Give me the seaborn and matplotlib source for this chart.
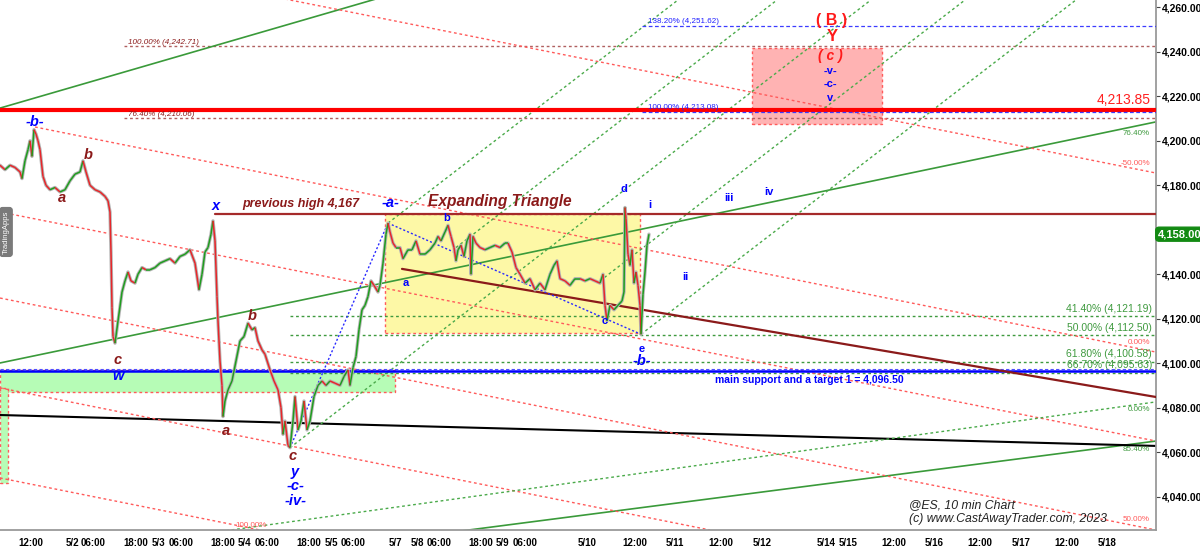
import numpy as np
import pandas as pd
import matplotlib
matplotlib.use("Agg")
import matplotlib.pyplot as plt
import seaborn as sns
from matplotlib.patches import Rectangle
from matplotlib.collections import LineCollection

sns.set_theme(style="white")
plt.rcParams['font.family'] = ['Liberation Sans', 'DejaVu Sans']

# ---------------- data ----------------
# session time index (chart slots) and ES price path
t = [0, 5, 10, 15, 20, 22, 25, 28, 30, 32, 34, 36, 38, 40, 43, 46, 50, 55, 60, 65,
     70, 75, 80, 83, 86, 90, 95, 100, 105, 108, 110, 111, 112, 113, 115, 118, 122, 125, 128, 131,
     135, 138, 142, 146, 150, 155, 160, 165, 170, 175, 180, 185, 190, 195, 199, 202, 205, 208, 211, 213,
     215, 217, 218, 220, 222, 223, 225, 228, 232, 236, 240, 244, 248, 252, 255, 258, 262, 265, 270, 274,
     278, 281, 283, 285, 288, 290, 293, 295, 298, 301, 304, 307, 310, 314, 318, 322, 326, 330, 335, 340,
     344, 348, 350, 353, 356, 359, 362, 365, 368, 371, 374, 378, 380, 383, 386, 388, 390, 393, 396, 400,
     403, 408, 412, 416, 420, 425, 430, 435, 438, 441, 445, 448, 451, 454, 456, 458, 461, 464, 467, 470,
     471, 473, 476, 480, 485, 490, 495, 500, 505, 508, 512, 516, 520, 525, 530, 535, 540, 545, 550, 554,
     557, 560, 565, 570, 575, 580, 585, 590, 595, 600, 603, 605, 607, 610, 614, 618, 622, 624, 625, 626,
     628, 630, 632, 634, 636, 638, 640, 641, 643, 645, 647, 649]
price = [4189, 4187, 4189, 4188, 4186, 4183, 4191, 4196, 4200, 4193, 4205, 4203, 4200, 4196, 4184, 4180, 4178, 4179, 4177, 4178,
         4182, 4185, 4186, 4191, 4186, 4180, 4178, 4177, 4175, 4173, 4168, 4150, 4125, 4112, 4109, 4119, 4132, 4137, 4141, 4137,
         4136, 4140, 4143, 4142, 4142, 4143, 4145, 4146, 4147, 4145, 4148, 4149, 4151, 4145, 4133, 4140, 4150, 4152, 4158, 4164,
         4155, 4130, 4119, 4101, 4090, 4076, 4083, 4088, 4092, 4101, 4110, 4112, 4118, 4115, 4116, 4110, 4106, 4104, 4097, 4092,
         4088, 4080, 4068, 4074, 4063, 4062, 4074, 4085, 4070, 4074, 4083, 4070, 4074, 4085, 4090, 4092, 4090, 4092, 4091, 4090,
         4094, 4097, 4090, 4098, 4103, 4115, 4124, 4126, 4130, 4137, 4135, 4132, 4135, 4145, 4158, 4163, 4159, 4154, 4152, 4152,
         4147, 4151, 4151, 4155, 4149, 4149, 4151, 4154, 4157, 4155, 4159, 4162, 4157, 4152, 4146, 4151, 4153, 4148, 4155, 4158,
         4140, 4157, 4154, 4152, 4151, 4152, 4153, 4152, 4154, 4154, 4150, 4143, 4140, 4136, 4138, 4133, 4136, 4133, 4140, 4144,
         4146, 4138, 4137, 4135, 4138, 4138, 4137, 4138, 4137, 4136, 4140, 4126, 4119, 4126, 4124, 4126, 4128, 4132, 4170, 4165,
         4149, 4144, 4151, 4136, 4141, 4135, 4126, 4113, 4131, 4141, 4153, 4158]

last_price = 4158.00
target_b = 4213.85
prev_high = 4167.00
support = 4096.50

fib_green_levels = [4121.19, 4112.50, 4100.58, 4095.63]
fib_green_labels = ["41.40% (4,121.19)", "50.00% (4,112.50)", "61.80% (4,100.58)", "66.70% (4,095.63)"]
fib_red_levels = [4242.71, 4210.06]
fib_red_labels = ["100.00% (4,242.71)", "76.40% (4,210.06)"]
fib_blue_levels = [4251.62, 4213.08]
fib_blue_labels = ["138.20% (4,251.62)", "100.00% (4,213.08)"]

y_ticks = [4040, 4060, 4080, 4100, 4120, 4140, 4160, 4180, 4200, 4220, 4240, 4260]
tick_pos = [30.6, 72.7, 93, 135.9, 158.8, 180.6, 222.7, 245, 266.7, 309, 331, 352.8, 395, 417, 439,
            481, 503, 525, 587.5, 634.4, 674.6, 721.3, 761.9, 826.6, 848, 893.9, 934, 980, 1021, 1067, 1107]
tick_lab = ["12:00", "5/2", "06:00", "18:00", "5/3", "06:00", "18:00", "5/4", "06:00", "18:00", "5/5", "06:00",
            "5/7", "5/8", "06:00", "18:00", "5/9", "06:00", "5/10", "12:00", "5/11", "12:00", "5/12", "5/14",
            "5/15", "12:00", "5/16", "12:00", "5/17", "12:00", "5/18"]

# trend / channel lines: (t0, p0, t1, p1)
green_solid = [(0, 4214.7, 400, 4266.9), (0, 4100.1, 1156, 4208.5), (400, 4021.0, 1156, 4065.0)]
black_line = (0, 4076.7, 1156, 4062.8)
triangle_line = (402, 4142.4, 1156, 4084.8)
red_channel = [(250, 4266.9, 1156, 4185.5), (35, 4206.2, 1156, 4105.0), (0, 4168.0, 1156, 4065.0),
               (0, 4129.3, 1156, 4025.0), (0, 4088.9, 710, 4025.0), (0, 4048.4, 260, 4025.0)]
green_dotted = [(215, 4024.0, 1156, 4082.6),
                (388, 4163.0, 680, 4264.0), (456, 4152.0, 777, 4263.3), (290, 4062.0, 870, 4263.0),
                (600, 4137.0, 965, 4263.3), (641, 4113.0, 1075, 4263.0)]
blue_dotted = [(290, 4062.0, 388, 4163.0), (388, 4163.0, 641, 4113.0)]

# ---------------- figure ----------------
fig = plt.figure(figsize=(12, 5.46), dpi=100)
ax = fig.add_axes([0, 16 / 546, 1156 / 1200, 530 / 546])
ax.set_facecolor("white")
ax.set_xlim(0, 1156)
ax.set_ylim(4025.0, 4263.3)

DR = "#8b1a1a"
BL = "#0000ff"
GR = "#3f9a3f"
RD = "#ff5a5a"

# zones
ax.add_patch(Rectangle((0, 4087.0), 395, 9.9, facecolor="#b6fcb6", edgecolor=RD, ls=(0, (2, 2)), lw=1, zorder=1))
ax.add_patch(Rectangle((0, 4046.1), 8, 42.7, facecolor="#b6fcb6", edgecolor=RD, ls=(0, (2, 2)), lw=1, zorder=1))
ax.add_patch(Rectangle((385, 4113.6), 255, 53.4, facecolor="#fdf8a6", edgecolor=RD, ls=(0, (2, 2)), lw=1, zorder=1))
ax.add_patch(Rectangle((752, 4207.5), 130, 34.2, facecolor="#ffb3b3", edgecolor=RD, ls=(0, (2, 2)), lw=1, zorder=1))

# horizontal levels
ax.plot([0, 1156], [target_b, target_b], color="#ff0000", lw=3, zorder=3)
for lv in fib_blue_levels:
    ax.plot([642, 1156], [lv, lv], color="#3c3cff", lw=0.9, ls=(0, (3, 2)), zorder=3)
for lv in fib_red_levels:
    ax.plot([124, 1156], [lv, lv], color="#b06060", lw=1, ls=(0, (2, 2)), zorder=2)
ax.plot([215, 1156], [prev_high, prev_high], color="#a52a2a", lw=1.6, zorder=3)
ax.plot([0, 1156], [support, support], color="#0000ff", lw=1.8, zorder=3)
ax.plot([0, 1156], [support + 0.9, support + 0.9], color="#5050ff", lw=0.8, ls=(0, (3, 2)), zorder=3)
for lv in fib_green_levels:
    ax.plot([290, 1156], [lv, lv], color=GR, lw=1, ls=(0, (2, 2)), zorder=2)

# diagonal lines
for (a0, b0, a1, b1) in green_solid:
    ax.plot([a0, a1], [b0, b1], color="#3a9a3a", lw=1.2, zorder=2)
ax.plot([black_line[0], black_line[2]], [black_line[1], black_line[3]], color="black", lw=1.5, zorder=2)
ax.plot([triangle_line[0], triangle_line[2]], [triangle_line[1], triangle_line[3]], color="#8b1a1a", lw=1.6, zorder=3)
for (a0, b0, a1, b1) in red_channel:
    ax.plot([a0, a1], [b0, b1], color=RD, lw=1, ls=(0, (2, 2)), zorder=2)
for (a0, b0, a1, b1) in green_dotted:
    ax.plot([a0, a1], [b0, b1], color="#4aaa4a", lw=1, ls=(0, (2, 2)), zorder=2)
for (a0, b0, a1, b1) in blue_dotted:
    ax.plot([a0, a1], [b0, b1], color="#2a2aff", lw=1, ls=(0, (1.5, 1.5)), zorder=3)

# price path
df = pd.DataFrame({"t": t, "price": price})
sns.lineplot(data=df, x="t", y="price", ax=ax, color="#b5b5b5", lw=2.4, sort=False, estimator=None, zorder=4)
pts = np.column_stack([df["t"], df["price"]])
segs = np.stack([pts[:-1], pts[1:]], axis=1)
cols = ["#1f9e1f" if b >= a else "#e8262a" for a, b in zip(price[:-1], price[1:])]
ax.add_collection(LineCollection(segs, colors=cols, linewidths=1.1, zorder=5))
ax.set_xlabel("")
ax.set_ylabel("")

# axes styling
for s in ["top", "left"]:
    ax.spines[s].set_visible(False)
for s in ["right", "bottom"]:
    ax.spines[s].set_color("#9a9a9a")
    ax.spines[s].set_linewidth(1.3)
ax.yaxis.tick_right()
ax.set_yticks(y_ticks)
# the 4,160 label sits under the last-price tag in the original
ax.set_yticklabels(["" if v == 4160 else f"{v:,.2f}" for v in y_ticks])
ax.set_xticks(tick_pos)
ax.set_xticklabels(tick_lab)
ax.tick_params(axis="y", direction="out", length=3, width=0.8, color="#444444", pad=1,
               labelsize=7.5, labelcolor="black")
ax.tick_params(axis="x", direction="out", length=4, width=0.8, color="#444444", pad=2,
               labelsize=7, labelcolor="black")
for lab in ax.get_xticklabels() + ax.get_yticklabels():
    lab.set_fontweight("bold")
ax.grid(False)

# last price tag
ax.text(1.0015, last_price, f"{last_price:,.2f}", transform=ax.get_yaxis_transform(), ha="left", va="center",
        fontsize=8, fontweight="bold", color="white", clip_on=False, zorder=10,
        bbox=dict(boxstyle="round,pad=0.18,rounding_size=0.3", fc="#138a13", ec="#138a13"))
ax.text(1151, target_b + 1.3, "4,213.85", color="#ff2020", fontsize=10, ha="right", va="bottom", zorder=6)

# fib labels
for lv, lb in zip(fib_red_levels, fib_red_labels):
    ax.text(128, lv + 1.7, lb, color=DR, fontsize=5.8, style="italic", ha="left", va="center", zorder=6)
for lv, lb in zip(fib_blue_levels, fib_blue_labels):
    ax.text(648, lv + 1.8, lb, color="#2020ff", fontsize=5.8, ha="left", va="center", zorder=6)
for lv, lb in zip(fib_green_levels, fib_green_labels):
    ax.text(1152, lv + 3.4, lb, color=GR, fontsize=7.5, ha="right", va="center", zorder=6)

small_right = [("76.40%", 4203.5, GR), ("-50.00%", 4190.0, RD), ("0.00%", 4109.5, RD),
               ("0.00%", 4079.4, GR), ("85.40%", 4061.4, GR), ("50.00%", 4029.5, RD)]
for lb, yv, c in small_right:
    ax.text(1150, yv, lb, color=c, fontsize=5.8, ha="right", va="center", zorder=6)
ax.text(251, 4027.2, "100.00%", color=RD, fontsize=5.8, ha="center", va="center", zorder=6)

# wave labels
big_kw = dict(fontsize=10.5, fontweight="bold", style="italic", ha="center", va="center", zorder=7)
small_kw = dict(fontsize=8, fontweight="bold", ha="center", va="center", color=BL, zorder=7)
for (x, y, s, c) in [(35, 4208.5, "-b-", BL), (88, 4193.6, "b", DR), (62, 4174.3, "a", DR),
                     (118, 4101.4, "c", DR), (118, 4094.2, "w", BL), (216, 4170.7, "x", BL),
                     (252, 4121.2, "b", DR), (226, 4069.5, "a", DR), (293, 4058.3, "c", DR),
                     (295, 4051.1, "y", BL), (296, 4044.8, "-c-", BL), (296, 4038.0, "-iv-", BL),
                     (391, 4172.0, "-a-", BL), (642, 4101.0, "-b-", BL)]:
    ax.text(x, y, s, color=c, **big_kw)
for (x, y, s) in [(447, 4165.3, "b"), (406, 4136.1, "a"), (605, 4119.0, "c"), (624, 4178.3, "d"),
                  (650, 4171.1, "i"), (642, 4106.4, "e"), (685, 4138.8, "ii"), (729, 4174.3, "iii"),
                  (769, 4177.0, "iv")]:
    ax.text(x, y, s, **small_kw)

ax.text(301, 4171.6, "previous high 4,167", color=DR, fontsize=9, fontweight="bold", style="italic",
        ha="center", va="center", zorder=7)
ax.text(500, 4172.5, "Expanding Triangle", color=DR, fontsize=11.2, fontweight="bold", style="italic",
        ha="center", va="center", zorder=7)
ax.text(832, 4253.9, "( B )", color="#ff1a1a", fontsize=11.5, fontweight="bold", ha="center", va="center", zorder=7)
ax.text(832, 4246.7, "Y", color="#ff1a1a", fontsize=12, fontweight="bold", ha="center", va="center", zorder=7)
ax.text(830, 4238.1, "( c )", color="#ff1a1a", fontsize=10, fontweight="bold", style="italic",
        ha="center", va="center", zorder=7)
for (y, s) in [(4231.4, "-v-"), (4225.5, "-c-"), (4219.2, "v")]:
    ax.text(830, y, s, fontsize=8, fontweight="bold", color=BL, ha="center", va="center", zorder=7)

ax.text(715, 4092.5, "main support and a target 1 = 4,096.50", color=BL, fontsize=7.5, fontweight="bold",
        ha="left", va="center", zorder=7)
ax.text(909, 4036.2, "@ES, 10 min Chart", color="#222222", fontsize=8.8, style="italic", ha="left", va="center", zorder=7)
ax.text(909, 4030.0, "(c) www.CastAwayTrader.com, 2023", color="#222222", fontsize=8.8, style="italic",
        ha="left", va="center", zorder=7)

ax.text(6, 4159, "TradingApps", rotation=90, color="white", fontsize=5.5, ha="center", va="center", zorder=8,
        bbox=dict(boxstyle="round,pad=0.35", fc="#7a7a7a", ec="#7a7a7a"))

fig.savefig("out.png", dpi=100, facecolor="white")
